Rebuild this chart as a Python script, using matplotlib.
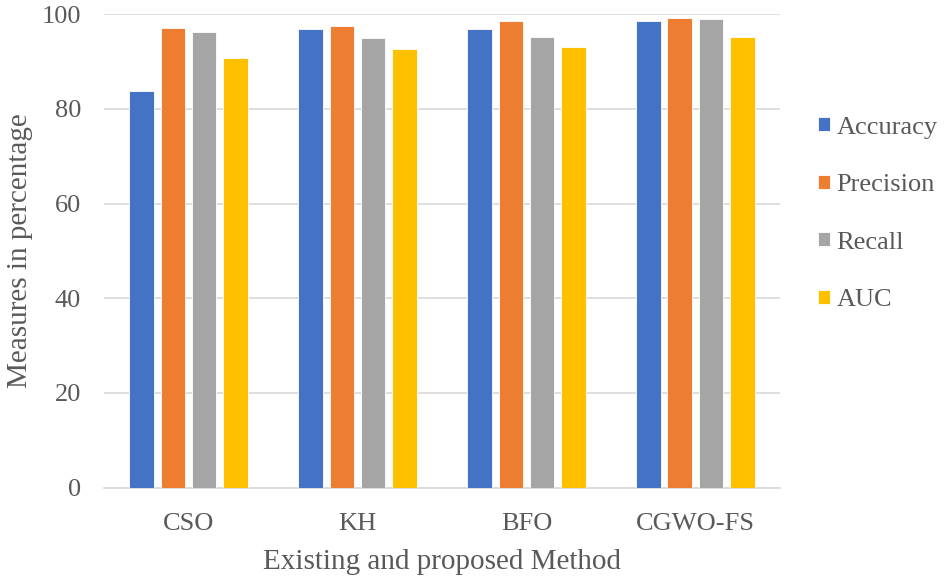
import numpy as np
import matplotlib.pyplot as plt

methods = ["CSO", "KH", "BFO", "CGWO-FS"]
accuracy = [83.8, 96.8, 96.8, 98.6]
precision = [97.0, 97.5, 98.6, 99.3]
recall = [96.3, 94.9, 95.3, 98.9]
auc = [90.8, 92.6, 93.0, 95.2]

series = [("Accuracy", accuracy, "#4472c4"),
          ("Precision", precision, "#ed7d31"),
          ("Recall", recall, "#a5a5a5"),
          ("AUC", auc, "#ffc000")]

plt.rcParams['font.family'] = ['Liberation Serif', 'DejaVu Serif']
text_col = "#595959"

fig = plt.figure(figsize=(9.5, 5.83), dpi=100)
ax = fig.add_axes([0.1095, 0.1638, 0.7115, 0.8117])

x = np.arange(len(methods))
width = 0.145
pitch = 0.186
for i, (name, vals, col) in enumerate(series):
    ax.bar(x + (i - 1.5) * pitch, vals, width, color=col, label=name,
           edgecolor="white", linewidth=0.6, zorder=3)

ax.set_xlim(-0.5, len(methods) - 0.5)
ax.set_ylim(0, 100)
ax.set_yticks(range(0, 101, 20))
ax.set_xticks(x)
ax.set_xticklabels(methods)
ax.grid(axis="y", color="#d9d9d9", linewidth=1.2, zorder=0)
for s in ["top", "right", "left"]:
    ax.spines[s].set_visible(False)
ax.spines["bottom"].set_color("#d9d9d9")
ax.spines["bottom"].set_linewidth(1.2)
ax.tick_params(length=0, labelsize=19, labelcolor=text_col)
ax.tick_params(axis="x", pad=18.5)
ax.tick_params(axis="y", pad=16.5)

ax.set_xlabel("Existing and proposed Method", fontsize=21, color=text_col, labelpad=10)
ax.set_ylabel("Measures in percentage", fontsize=21, color=text_col, labelpad=6)

ax.legend(loc="center left", bbox_to_anchor=(1.0, 0.578), frameon=False,
          fontsize=19, labelcolor=text_col, handlelength=0.45, handleheight=0.45,
          handletextpad=0.25, labelspacing=1.35, borderaxespad=1.05)

fig.savefig("out.png", dpi=100)
